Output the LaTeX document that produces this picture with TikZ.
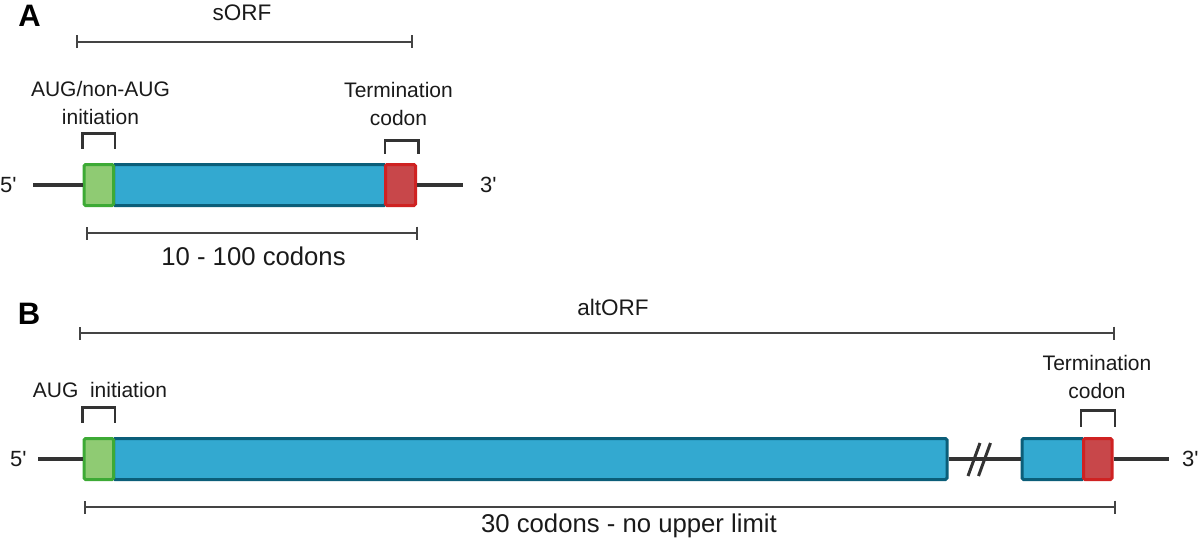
\documentclass[tikz,border=0pt]{standalone}
\usepackage{fontspec}
\setmainfont{Liberation Sans}[Ligatures=TeXOff]
\usetikzlibrary{arrows.meta,calc}
\definecolor{txt}{HTML}{1A1A1A}
\definecolor{lineC}{HTML}{333333}
\definecolor{measC}{HTML}{444444}
\definecolor{gFill}{HTML}{8FCB73}
\definecolor{gDraw}{HTML}{3DAA35}
\definecolor{bFill}{HTML}{33A9D0}
\definecolor{bDraw}{HTML}{0B5E79}
\definecolor{rFill}{HTML}{C8474A}
\definecolor{rDraw}{HTML}{CF2222}
\tikzset{
  lbl/.style={text=txt, inner sep=0pt, align=center, font=\fontsize{21}{28}\selectfont},
  ttl/.style={text=txt, inner sep=0pt, font=\fontsize{22.5}{27}\selectfont},
  big/.style={text=txt, inner sep=0pt, font=\fontsize{25.7}{30}\selectfont},
  panel/.style={text=black, inner sep=0pt, font=\fontsize{31}{35}\selectfont\bfseries},
  endlbl/.style={text=txt, inner sep=0pt, font=\fontsize{22}{26}\selectfont},
  box/.style={line width=3pt, rounded corners=1.5pt, minimum height=41pt, inner sep=0pt, anchor=west},
  gbox/.style={box, fill=gFill, draw=gDraw},
  bbox/.style={box, fill=bFill, draw=bDraw},
  rbox/.style={box, fill=rFill, draw=rDraw},
  backbone/.style={line width=4pt, draw=lineC},
  meas/.style={line width=2pt, draw=measC, {Bar[width=13pt]}-{Bar[width=13pt]}},
  brk/.style={line width=2.5pt, draw=lineC},
  slash/.style={line width=3pt, draw=lineC}
}
\begin{document}
\begin{tikzpicture}[x=1pt,y=-1pt]
\useasboundingbox (0,0) rectangle (1200,541);
% ---------- Panel A ----------
\node[panel] (pA) at (29.5,16) {A};
\node[ttl] (sorf) at (242,13) {sORF};
\coordinate (sA1) at (76,41.5);
\coordinate (sA2) at (413,41.5);
\draw[meas] (sA1) -- (sA2);

\node[bbox, minimum width=272pt] (bA) at (112,185) {};
\node[gbox, minimum width=29.5pt] (gA) at (82.5,185) {};
\node[rbox, minimum width=30pt] (rA) at (384,185) {};

\coordinate (lA1) at (33,185);
\coordinate (lA2) at (463,185);
\draw[backbone] (lA1) -- (gA.west);
\draw[backbone] (rA.east) -- (lA2);
\node[endlbl, anchor=west] (fiveA) at (0,185) {5'};
\node[endlbl, anchor=west] (threeA) at (480,185) {3'};

\node[lbl] (initA) at (100.5,103) {AUG/non-AUG\\initiation};
\node[lbl] (termA) at (398.5,104) {Termination\\codon};
\draw[brk] ([yshift=14.5pt]gA.north west) -- ++(0,-15) -| ([yshift=14.5pt]gA.north east);
\draw[brk] ([yshift=9.5pt,xshift=1pt]rA.north west) -- ++(0,-13) -| ([yshift=9.5pt,xshift=1.5pt]rA.north east);

\coordinate (cA1) at (86,233);
\coordinate (cA2) at (418,233);
\draw[meas] (cA1) -- (cA2);
\node[big] (lenA) at (253.5,256) {10 - 100 codons};

% ---------- Panel B ----------
\node[panel] (pB) at (29,314) {B};
\node[ttl] (altorf) at (613,307) {altORF};
\coordinate (sB1) at (79,333);
\coordinate (sB2) at (1115,333);
\draw[meas] (sB1) -- (sB2);

\node[bbox, minimum width=833.5pt] (bB1) at (112,459) {};
\node[gbox, minimum width=29.5pt] (gB) at (82.5,459) {};
\node[bbox, minimum width=61.5pt] (bB2) at (1020.5,459) {};
\node[rbox, minimum width=28.5pt] (rB) at (1082,459) {};

\coordinate (lB1) at (38,459);
\coordinate (lB2) at (1169,459);
\draw[backbone] (lB1) -- (gB.west);
\draw[backbone] (bB1.east) -- (bB2.west);
\draw[backbone] (rB.east) -- (lB2);
\draw[slash] (968,476) -- (980,443);
\draw[slash] (978.5,476) -- (990.5,443);
\node[endlbl, anchor=west] (fiveB) at (10,459) {5'};
\node[endlbl, anchor=west] (threeB) at (1182,459) {3'};

\node[lbl] (initB) at (100,390) {AUG~ initiation};
\node[lbl] (termB) at (1097,377) {Termination\\codon};
\draw[brk] ([yshift=14.5pt]gB.north west) -- ++(0,-15) -| ([yshift=14.5pt]gB.north east);
\draw[brk] ([yshift=10.5pt,xshift=-1pt]rB.north west) -- ++(0,-16) -| ([yshift=10.5pt,xshift=1.5pt]rB.north east);

\coordinate (cB1) at (84,507);
\coordinate (cB2) at (1116,507);
\draw[meas] (cB1) -- (cB2);
\node[big] (lenB) at (629,526) {30 codons - no upper limit};
\end{tikzpicture}
\end{document}
